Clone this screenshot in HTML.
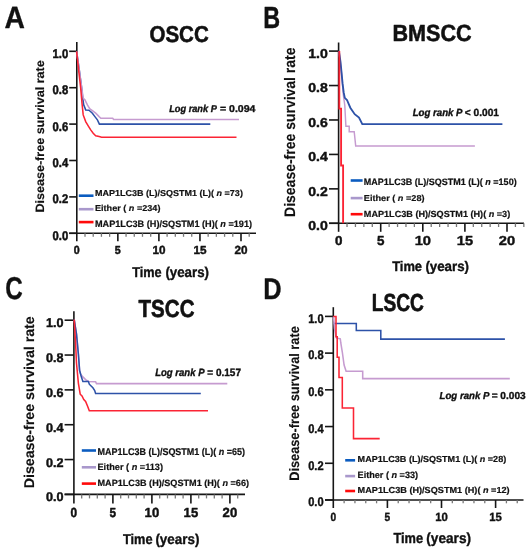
<!DOCTYPE html>
<html><head><meta charset="utf-8"><style>
html,body{margin:0;padding:0;background:#fff;}
svg{display:block;filter:blur(0.35px);}
text{font-family:"Liberation Sans",sans-serif;font-weight:bold;text-rendering:geometricPrecision;}
</style></head><body>
<svg width="529" height="550" viewBox="0 0 529 550">
<rect width="529" height="550" fill="#fff"/>
<line x1="76.80" y1="42.00" x2="76.80" y2="241.30" stroke="#161616" stroke-width="1.6"/>
<line x1="69.20" y1="233.30" x2="256.00" y2="233.30" stroke="#161616" stroke-width="1.6"/>
<line x1="69.20" y1="233.30" x2="76.80" y2="233.30" stroke="#161616" stroke-width="1.6"/>
<line x1="69.20" y1="196.90" x2="76.80" y2="196.90" stroke="#161616" stroke-width="1.6"/>
<line x1="69.20" y1="160.50" x2="76.80" y2="160.50" stroke="#161616" stroke-width="1.6"/>
<line x1="69.20" y1="124.10" x2="76.80" y2="124.10" stroke="#161616" stroke-width="1.6"/>
<line x1="69.20" y1="87.70" x2="76.80" y2="87.70" stroke="#161616" stroke-width="1.6"/>
<line x1="69.20" y1="51.30" x2="76.80" y2="51.30" stroke="#161616" stroke-width="1.6"/>
<line x1="85.01" y1="233.30" x2="85.01" y2="236.80" stroke="#777" stroke-width="1.3"/>
<line x1="93.22" y1="233.30" x2="93.22" y2="236.80" stroke="#777" stroke-width="1.3"/>
<line x1="101.43" y1="233.30" x2="101.43" y2="236.80" stroke="#777" stroke-width="1.3"/>
<line x1="109.64" y1="233.30" x2="109.64" y2="236.80" stroke="#777" stroke-width="1.3"/>
<line x1="117.85" y1="233.30" x2="117.85" y2="241.30" stroke="#161616" stroke-width="1.6"/>
<line x1="126.06" y1="233.30" x2="126.06" y2="236.80" stroke="#777" stroke-width="1.3"/>
<line x1="134.27" y1="233.30" x2="134.27" y2="236.80" stroke="#777" stroke-width="1.3"/>
<line x1="142.48" y1="233.30" x2="142.48" y2="236.80" stroke="#777" stroke-width="1.3"/>
<line x1="150.69" y1="233.30" x2="150.69" y2="236.80" stroke="#777" stroke-width="1.3"/>
<line x1="158.90" y1="233.30" x2="158.90" y2="241.30" stroke="#161616" stroke-width="1.6"/>
<line x1="167.11" y1="233.30" x2="167.11" y2="236.80" stroke="#777" stroke-width="1.3"/>
<line x1="175.32" y1="233.30" x2="175.32" y2="236.80" stroke="#777" stroke-width="1.3"/>
<line x1="183.53" y1="233.30" x2="183.53" y2="236.80" stroke="#777" stroke-width="1.3"/>
<line x1="191.74" y1="233.30" x2="191.74" y2="236.80" stroke="#777" stroke-width="1.3"/>
<line x1="199.95" y1="233.30" x2="199.95" y2="241.30" stroke="#161616" stroke-width="1.6"/>
<line x1="208.16" y1="233.30" x2="208.16" y2="236.80" stroke="#777" stroke-width="1.3"/>
<line x1="216.37" y1="233.30" x2="216.37" y2="236.80" stroke="#777" stroke-width="1.3"/>
<line x1="224.58" y1="233.30" x2="224.58" y2="236.80" stroke="#777" stroke-width="1.3"/>
<line x1="232.79" y1="233.30" x2="232.79" y2="236.80" stroke="#777" stroke-width="1.3"/>
<line x1="241.00" y1="233.30" x2="241.00" y2="241.30" stroke="#161616" stroke-width="1.6"/>
<line x1="249.21" y1="233.30" x2="249.21" y2="236.80" stroke="#777" stroke-width="1.3"/>
<text transform="translate(52.53,239.73) scale(0.8955,1)" font-size="12.573" fill="#111" stroke="#111" stroke-width="0.503" stroke-linejoin="round">0.0</text>
<text transform="translate(52.53,203.33) scale(0.8955,1)" font-size="12.573" fill="#111" stroke="#111" stroke-width="0.503" stroke-linejoin="round">0.2</text>
<text transform="translate(52.53,166.93) scale(0.8955,1)" font-size="12.573" fill="#111" stroke="#111" stroke-width="0.503" stroke-linejoin="round">0.4</text>
<text transform="translate(52.53,130.53) scale(0.8955,1)" font-size="12.573" fill="#111" stroke="#111" stroke-width="0.503" stroke-linejoin="round">0.6</text>
<text transform="translate(52.53,94.13) scale(0.8955,1)" font-size="12.573" fill="#111" stroke="#111" stroke-width="0.503" stroke-linejoin="round">0.8</text>
<text transform="translate(52.53,57.73) scale(0.8955,1)" font-size="12.573" fill="#111" stroke="#111" stroke-width="0.503" stroke-linejoin="round">1.0</text>
<text transform="translate(73.82,253.58) scale(0.9146,1)" font-size="11.701" fill="#111" stroke="#111" stroke-width="0.492" stroke-linejoin="round">0</text>
<text transform="translate(114.87,253.58) scale(0.9146,1)" font-size="11.701" fill="#111" stroke="#111" stroke-width="0.492" stroke-linejoin="round">5</text>
<text transform="translate(152.38,253.58) scale(1.0030,1)" font-size="11.701" fill="#111" stroke="#111" stroke-width="0.449" stroke-linejoin="round">10</text>
<text transform="translate(193.42,253.58) scale(1.0030,1)" font-size="11.701" fill="#111" stroke="#111" stroke-width="0.449" stroke-linejoin="round">15</text>
<text transform="translate(234.47,253.58) scale(1.0030,1)" font-size="11.701" fill="#111" stroke="#111" stroke-width="0.449" stroke-linejoin="round">20</text>
<text transform="translate(4.55,27.65) scale(0.9169,1)" font-size="30.814" fill="#111" stroke="#111" stroke-width="0.327" stroke-linejoin="round">A</text>
<text transform="translate(149.45,41.85) scale(0.8938,1)" font-size="22.965" fill="#111" stroke="#111" stroke-width="0.559" stroke-linejoin="round">OSCC</text>
<text transform="translate(43.52,212.62) rotate(-90) scale(1.0365,1)" font-size="12.137" fill="#111" stroke="#111" stroke-width="0.150" stroke-linejoin="round">Disease-free survival rate</text>
<text transform="translate(169.18,112.03) scale(0.9276,1)" font-size="9.956" fill="#111" stroke="#111" stroke-width="0.377" stroke-linejoin="round"><tspan font-style="italic">Log rank P</tspan></text>
<text transform="translate(219.98,112.03) scale(1.0614,1)" font-size="9.956" fill="#111" stroke="#111" stroke-width="0.330" stroke-linejoin="round">= 0.094</text>
<text transform="translate(132.18,277.12) scale(0.8882,1)" font-size="14.317" fill="#111" stroke="#111" stroke-width="0.394" stroke-linejoin="round">Time</text>
<text transform="translate(165.38,277.12) scale(0.9295,1)" font-size="14.317" fill="#111" stroke="#111" stroke-width="0.377" stroke-linejoin="round">(years)</text>
<line x1="78.80" y1="195.70" x2="93.50" y2="195.70" stroke="#0b5cc0" stroke-width="2.6"/>
<line x1="78.80" y1="209.20" x2="93.50" y2="209.20" stroke="#a998cc" stroke-width="2.6"/>
<line x1="78.80" y1="222.10" x2="93.50" y2="222.10" stroke="#ff0a0a" stroke-width="2.6"/>
<text transform="translate(95.00,195.80) scale(1.0519,1)" font-size="8.576" fill="#111" stroke="#111" stroke-width="0.190" stroke-linejoin="round">MAP1LC3B (L)/SQSTM1 (L)( <tspan font-style="italic">n</tspan> =73)</text>
<text transform="translate(95.00,211.40) scale(1.0613,1)" font-size="8.576" fill="#111" stroke="#111" stroke-width="0.188" stroke-linejoin="round">Either ( <tspan font-style="italic">n</tspan> =234)</text>
<text transform="translate(95.00,227.30) scale(0.9821,1)" font-size="9.302" fill="#111" stroke="#111" stroke-width="0.204" stroke-linejoin="round">MAP1LC3B (H)/SQSTM1 (H)( <tspan font-style="italic">n</tspan> =191)</text>
<polyline points="76.60,51.30 79.00,68.10 81.50,86.50 82.70,98.20 83.70,104.90 85.70,109.90 89.00,110.20 92.40,113.20 94.90,116.60 97.40,119.90 99.40,124.10 210.30,124.10" fill="none" stroke="#2d52a8" stroke-width="1.55"/>
<polyline points="76.60,51.30 79.00,68.10 81.50,86.50 83.20,98.20 84.90,99.80 87.40,104.90 89.90,109.00 92.40,110.70 95.70,113.20 99.10,116.60 100.80,118.20 112.70,118.20 113.60,119.40 239.00,119.40" fill="none" stroke="#c69bd0" stroke-width="1.55"/>
<polyline points="76.60,51.30 79.00,73.10 80.70,88.10 82.00,103.20 83.20,114.90 85.70,121.60 88.20,125.80 90.70,129.90 93.20,133.30 95.70,135.80 99.10,136.60 101.60,137.20 236.50,137.20" fill="none" stroke="#fb2434" stroke-width="1.55"/>
<line x1="338.60" y1="42.50" x2="338.60" y2="231.80" stroke="#161616" stroke-width="1.6"/>
<line x1="329.00" y1="223.30" x2="524.00" y2="223.30" stroke="#161616" stroke-width="1.6"/>
<line x1="329.00" y1="223.30" x2="338.60" y2="223.30" stroke="#161616" stroke-width="1.6"/>
<line x1="329.00" y1="188.86" x2="338.60" y2="188.86" stroke="#161616" stroke-width="1.6"/>
<line x1="329.00" y1="154.42" x2="338.60" y2="154.42" stroke="#161616" stroke-width="1.6"/>
<line x1="329.00" y1="119.98" x2="338.60" y2="119.98" stroke="#161616" stroke-width="1.6"/>
<line x1="329.00" y1="85.54" x2="338.60" y2="85.54" stroke="#161616" stroke-width="1.6"/>
<line x1="329.00" y1="51.10" x2="338.60" y2="51.10" stroke="#161616" stroke-width="1.6"/>
<line x1="347.02" y1="223.30" x2="347.02" y2="227.00" stroke="#777" stroke-width="1.3"/>
<line x1="355.44" y1="223.30" x2="355.44" y2="227.00" stroke="#777" stroke-width="1.3"/>
<line x1="363.86" y1="223.30" x2="363.86" y2="227.00" stroke="#777" stroke-width="1.3"/>
<line x1="372.28" y1="223.30" x2="372.28" y2="227.00" stroke="#777" stroke-width="1.3"/>
<line x1="380.70" y1="223.30" x2="380.70" y2="231.80" stroke="#161616" stroke-width="1.6"/>
<line x1="389.12" y1="223.30" x2="389.12" y2="227.00" stroke="#777" stroke-width="1.3"/>
<line x1="397.54" y1="223.30" x2="397.54" y2="227.00" stroke="#777" stroke-width="1.3"/>
<line x1="405.96" y1="223.30" x2="405.96" y2="227.00" stroke="#777" stroke-width="1.3"/>
<line x1="414.38" y1="223.30" x2="414.38" y2="227.00" stroke="#777" stroke-width="1.3"/>
<line x1="422.80" y1="223.30" x2="422.80" y2="231.80" stroke="#161616" stroke-width="1.6"/>
<line x1="431.22" y1="223.30" x2="431.22" y2="227.00" stroke="#777" stroke-width="1.3"/>
<line x1="439.64" y1="223.30" x2="439.64" y2="227.00" stroke="#777" stroke-width="1.3"/>
<line x1="448.06" y1="223.30" x2="448.06" y2="227.00" stroke="#777" stroke-width="1.3"/>
<line x1="456.48" y1="223.30" x2="456.48" y2="227.00" stroke="#777" stroke-width="1.3"/>
<line x1="464.90" y1="223.30" x2="464.90" y2="231.80" stroke="#161616" stroke-width="1.6"/>
<line x1="473.32" y1="223.30" x2="473.32" y2="227.00" stroke="#777" stroke-width="1.3"/>
<line x1="481.74" y1="223.30" x2="481.74" y2="227.00" stroke="#777" stroke-width="1.3"/>
<line x1="490.16" y1="223.30" x2="490.16" y2="227.00" stroke="#777" stroke-width="1.3"/>
<line x1="498.58" y1="223.30" x2="498.58" y2="227.00" stroke="#777" stroke-width="1.3"/>
<line x1="507.00" y1="223.30" x2="507.00" y2="231.80" stroke="#161616" stroke-width="1.6"/>
<line x1="515.42" y1="223.30" x2="515.42" y2="227.00" stroke="#777" stroke-width="1.3"/>
<line x1="523.84" y1="223.30" x2="523.84" y2="227.00" stroke="#777" stroke-width="1.3"/>
<text transform="translate(308.23,230.18) scale(1.0812,1)" font-size="13.009" fill="#111" stroke="#111" stroke-width="0.416" stroke-linejoin="round">0.0</text>
<text transform="translate(308.23,195.74) scale(1.0812,1)" font-size="13.009" fill="#111" stroke="#111" stroke-width="0.416" stroke-linejoin="round">0.2</text>
<text transform="translate(308.23,161.30) scale(1.0812,1)" font-size="13.009" fill="#111" stroke="#111" stroke-width="0.416" stroke-linejoin="round">0.4</text>
<text transform="translate(308.23,126.86) scale(1.0812,1)" font-size="13.009" fill="#111" stroke="#111" stroke-width="0.416" stroke-linejoin="round">0.6</text>
<text transform="translate(308.23,92.42) scale(1.0812,1)" font-size="13.009" fill="#111" stroke="#111" stroke-width="0.416" stroke-linejoin="round">0.8</text>
<text transform="translate(308.23,57.97) scale(1.0812,1)" font-size="13.009" fill="#111" stroke="#111" stroke-width="0.416" stroke-linejoin="round">1.0</text>
<text transform="translate(334.88,245.48) scale(1.0300,1)" font-size="13.009" fill="#111" stroke="#111" stroke-width="0.437" stroke-linejoin="round">0</text>
<text transform="translate(376.98,245.48) scale(1.0300,1)" font-size="13.009" fill="#111" stroke="#111" stroke-width="0.437" stroke-linejoin="round">5</text>
<text transform="translate(414.63,245.48) scale(1.1303,1)" font-size="13.009" fill="#111" stroke="#111" stroke-width="0.398" stroke-linejoin="round">10</text>
<text transform="translate(456.73,245.48) scale(1.1303,1)" font-size="13.009" fill="#111" stroke="#111" stroke-width="0.398" stroke-linejoin="round">15</text>
<text transform="translate(498.83,245.48) scale(1.1303,1)" font-size="13.009" fill="#111" stroke="#111" stroke-width="0.398" stroke-linejoin="round">20</text>
<text transform="translate(263.15,27.55) scale(0.7669,1)" font-size="30.523" fill="#111" stroke="#111" stroke-width="0.391" stroke-linejoin="round">B</text>
<text transform="translate(392.45,41.35) scale(0.9229,1)" font-size="23.401" fill="#111" stroke="#111" stroke-width="0.542" stroke-linejoin="round">BMSCC</text>
<text transform="translate(295.32,216.93) rotate(-90) scale(0.9216,1)" font-size="15.189" fill="#111" stroke="#111" stroke-width="0.150" stroke-linejoin="round">Disease-free survival rate</text>
<text transform="translate(412.68,116.12) scale(0.9297,1)" font-size="10.392" fill="#111" stroke="#111" stroke-width="0.376" stroke-linejoin="round"><tspan font-style="italic">Log rank P</tspan></text>
<text transform="translate(464.78,116.12) scale(0.9797,1)" font-size="10.392" fill="#111" stroke="#111" stroke-width="0.357" stroke-linejoin="round">&lt; 0.001</text>
<text transform="translate(392.18,270.72) scale(0.9285,1)" font-size="13.881" fill="#111" stroke="#111" stroke-width="0.377" stroke-linejoin="round">Time</text>
<text transform="translate(425.38,270.72) scale(0.9587,1)" font-size="13.881" fill="#111" stroke="#111" stroke-width="0.365" stroke-linejoin="round">(years)</text>
<line x1="350.70" y1="180.50" x2="362.60" y2="180.50" stroke="#0b5cc0" stroke-width="2.6"/>
<line x1="350.70" y1="198.10" x2="362.60" y2="198.10" stroke="#a998cc" stroke-width="2.6"/>
<line x1="350.70" y1="214.20" x2="362.60" y2="214.20" stroke="#ff0a0a" stroke-width="2.6"/>
<text transform="translate(363.80,185.30) scale(0.9684,1)" font-size="9.302" fill="#111" stroke="#111" stroke-width="0.207" stroke-linejoin="round">MAP1LC3B (L)/SQSTM1 (L)( <tspan font-style="italic">n</tspan> =150)</text>
<text transform="translate(363.80,201.20) scale(1.0677,1)" font-size="8.576" fill="#111" stroke="#111" stroke-width="0.187" stroke-linejoin="round">Either ( <tspan font-style="italic">n</tspan> =28)</text>
<text transform="translate(363.80,216.70) scale(1.0273,1)" font-size="8.866" fill="#111" stroke="#111" stroke-width="0.195" stroke-linejoin="round">MAP1LC3B (H)/SQSTM1 (H)( <tspan font-style="italic">n</tspan> =3)</text>
<polyline points="338.90,50.90 341.50,72.80 343.30,94.60 344.80,105.50 345.90,126.20 349.20,126.20 349.20,131.70 354.20,131.70 355.70,145.90 474.90,145.90" fill="none" stroke="#c69bd0" stroke-width="1.45"/>
<polyline points="338.90,50.90 340.50,61.80 342.60,83.70 343.70,92.40 344.80,97.90 347.00,100.00 350.30,107.70 354.70,114.20 359.00,117.50 362.30,124.10 502.40,124.10" fill="none" stroke="#2d52a8" stroke-width="1.85"/>
<polyline points="339.30,51.00 339.30,108.60 341.10,108.60 341.10,165.50 343.10,165.50 343.10,223.30" fill="none" stroke="#fb2434" stroke-width="1.85"/>
<line x1="73.90" y1="311.20" x2="73.90" y2="503.40" stroke="#161616" stroke-width="1.6"/>
<line x1="64.60" y1="494.40" x2="245.00" y2="494.40" stroke="#161616" stroke-width="1.6"/>
<line x1="64.60" y1="494.40" x2="73.90" y2="494.40" stroke="#161616" stroke-width="1.6"/>
<line x1="64.60" y1="459.56" x2="73.90" y2="459.56" stroke="#161616" stroke-width="1.6"/>
<line x1="64.60" y1="424.72" x2="73.90" y2="424.72" stroke="#161616" stroke-width="1.6"/>
<line x1="64.60" y1="389.88" x2="73.90" y2="389.88" stroke="#161616" stroke-width="1.6"/>
<line x1="64.60" y1="355.04" x2="73.90" y2="355.04" stroke="#161616" stroke-width="1.6"/>
<line x1="64.60" y1="320.20" x2="73.90" y2="320.20" stroke="#161616" stroke-width="1.6"/>
<line x1="81.70" y1="494.40" x2="81.70" y2="498.40" stroke="#777" stroke-width="1.3"/>
<line x1="89.50" y1="494.40" x2="89.50" y2="498.40" stroke="#777" stroke-width="1.3"/>
<line x1="97.30" y1="494.40" x2="97.30" y2="498.40" stroke="#777" stroke-width="1.3"/>
<line x1="105.10" y1="494.40" x2="105.10" y2="498.40" stroke="#777" stroke-width="1.3"/>
<line x1="112.90" y1="494.40" x2="112.90" y2="503.40" stroke="#161616" stroke-width="1.6"/>
<line x1="120.70" y1="494.40" x2="120.70" y2="498.40" stroke="#777" stroke-width="1.3"/>
<line x1="128.50" y1="494.40" x2="128.50" y2="498.40" stroke="#777" stroke-width="1.3"/>
<line x1="136.30" y1="494.40" x2="136.30" y2="498.40" stroke="#777" stroke-width="1.3"/>
<line x1="144.10" y1="494.40" x2="144.10" y2="498.40" stroke="#777" stroke-width="1.3"/>
<line x1="151.90" y1="494.40" x2="151.90" y2="503.40" stroke="#161616" stroke-width="1.6"/>
<line x1="159.70" y1="494.40" x2="159.70" y2="498.40" stroke="#777" stroke-width="1.3"/>
<line x1="167.50" y1="494.40" x2="167.50" y2="498.40" stroke="#777" stroke-width="1.3"/>
<line x1="175.30" y1="494.40" x2="175.30" y2="498.40" stroke="#777" stroke-width="1.3"/>
<line x1="183.10" y1="494.40" x2="183.10" y2="498.40" stroke="#777" stroke-width="1.3"/>
<line x1="190.90" y1="494.40" x2="190.90" y2="503.40" stroke="#161616" stroke-width="1.6"/>
<line x1="198.70" y1="494.40" x2="198.70" y2="498.40" stroke="#777" stroke-width="1.3"/>
<line x1="206.50" y1="494.40" x2="206.50" y2="498.40" stroke="#777" stroke-width="1.3"/>
<line x1="214.30" y1="494.40" x2="214.30" y2="498.40" stroke="#777" stroke-width="1.3"/>
<line x1="222.10" y1="494.40" x2="222.10" y2="498.40" stroke="#777" stroke-width="1.3"/>
<line x1="229.90" y1="494.40" x2="229.90" y2="503.40" stroke="#161616" stroke-width="1.6"/>
<line x1="237.70" y1="494.40" x2="237.70" y2="498.40" stroke="#777" stroke-width="1.3"/>
<text transform="translate(45.93,501.38) scale(0.9928,1)" font-size="12.718" fill="#111" stroke="#111" stroke-width="0.453" stroke-linejoin="round">0.0</text>
<text transform="translate(45.93,466.54) scale(0.9928,1)" font-size="12.718" fill="#111" stroke="#111" stroke-width="0.453" stroke-linejoin="round">0.2</text>
<text transform="translate(45.93,431.69) scale(0.9928,1)" font-size="12.718" fill="#111" stroke="#111" stroke-width="0.453" stroke-linejoin="round">0.4</text>
<text transform="translate(45.93,396.86) scale(0.9928,1)" font-size="12.718" fill="#111" stroke="#111" stroke-width="0.453" stroke-linejoin="round">0.6</text>
<text transform="translate(45.93,362.01) scale(0.9928,1)" font-size="12.718" fill="#111" stroke="#111" stroke-width="0.453" stroke-linejoin="round">0.8</text>
<text transform="translate(45.93,327.18) scale(0.9928,1)" font-size="12.718" fill="#111" stroke="#111" stroke-width="0.453" stroke-linejoin="round">1.0</text>
<text transform="translate(70.62,517.27) scale(0.8956,1)" font-size="13.154" fill="#111" stroke="#111" stroke-width="0.502" stroke-linejoin="round">0</text>
<text transform="translate(109.62,517.27) scale(0.8956,1)" font-size="13.154" fill="#111" stroke="#111" stroke-width="0.502" stroke-linejoin="round">5</text>
<text transform="translate(144.62,517.27) scale(0.9947,1)" font-size="13.154" fill="#111" stroke="#111" stroke-width="0.452" stroke-linejoin="round">10</text>
<text transform="translate(183.62,517.27) scale(0.9947,1)" font-size="13.154" fill="#111" stroke="#111" stroke-width="0.452" stroke-linejoin="round">15</text>
<text transform="translate(222.62,517.27) scale(0.9947,1)" font-size="13.154" fill="#111" stroke="#111" stroke-width="0.452" stroke-linejoin="round">20</text>
<text transform="translate(5.15,298.95) scale(0.7649,1)" font-size="31.686" fill="#111" stroke="#111" stroke-width="0.392" stroke-linejoin="round">C</text>
<text transform="translate(138.55,316.95) scale(0.8375,1)" font-size="24.564" fill="#111" stroke="#111" stroke-width="0.597" stroke-linejoin="round">TSCC</text>
<text transform="translate(34.42,488.32) rotate(-90) scale(1.0029,1)" font-size="14.172" fill="#111" stroke="#111" stroke-width="0.150" stroke-linejoin="round">Disease-free survival rate</text>
<text transform="translate(155.18,375.72) scale(0.9077,1)" font-size="10.538" fill="#111" stroke="#111" stroke-width="0.386" stroke-linejoin="round"><tspan font-style="italic">Log rank P</tspan></text>
<text transform="translate(207.28,375.72) scale(0.9521,1)" font-size="10.538" fill="#111" stroke="#111" stroke-width="0.368" stroke-linejoin="round">= 0.157</text>
<text transform="translate(122.97,544.12) scale(0.8912,1)" font-size="14.317" fill="#111" stroke="#111" stroke-width="0.393" stroke-linejoin="round">Time</text>
<text transform="translate(155.38,544.12) scale(0.9380,1)" font-size="14.317" fill="#111" stroke="#111" stroke-width="0.373" stroke-linejoin="round">(years)</text>
<line x1="81.80" y1="450.50" x2="96.00" y2="450.50" stroke="#0b5cc0" stroke-width="2.6"/>
<line x1="81.80" y1="467.30" x2="96.00" y2="467.30" stroke="#a998cc" stroke-width="2.6"/>
<line x1="81.80" y1="483.60" x2="96.00" y2="483.60" stroke="#ff0a0a" stroke-width="2.6"/>
<text transform="translate(97.50,454.70) scale(0.9244,1)" font-size="9.738" fill="#111" stroke="#111" stroke-width="0.216" stroke-linejoin="round">MAP1LC3B (L)/SQSTM1 (L)( <tspan font-style="italic">n</tspan> =65)</text>
<text transform="translate(97.50,470.30) scale(1.0031,1)" font-size="9.157" fill="#111" stroke="#111" stroke-width="0.199" stroke-linejoin="round">Either ( <tspan font-style="italic">n</tspan> =113)</text>
<text transform="translate(97.50,486.10) scale(1.0116,1)" font-size="9.012" fill="#111" stroke="#111" stroke-width="0.198" stroke-linejoin="round">MAP1LC3B (H)/SQSTM1 (H)( <tspan font-style="italic">n</tspan> =66)</text>
<polyline points="74.20,319.60 76.50,334.20 78.40,354.20 79.60,370.50 80.70,374.20 82.90,376.90 85.60,379.60 88.40,381.50 95.60,381.80 96.50,383.60 227.30,383.60" fill="none" stroke="#c69bd0" stroke-width="1.55"/>
<polyline points="74.20,319.60 76.50,334.20 78.40,354.20 79.60,370.50 81.10,376.00 82.90,381.50 88.40,381.50 89.30,384.20 91.10,386.00 92.90,387.80 94.70,390.50 95.60,393.40 200.80,393.40" fill="none" stroke="#2d52a8" stroke-width="1.55"/>
<polyline points="74.20,319.60 75.60,343.30 76.50,363.30 78.40,383.30 80.20,394.20 82.00,396.00 83.80,399.60 85.60,401.50 87.50,406.00 89.30,410.80 208.00,410.80" fill="none" stroke="#fb2434" stroke-width="1.55"/>
<line x1="333.30" y1="307.20" x2="333.30" y2="508.00" stroke="#161616" stroke-width="1.6"/>
<line x1="325.00" y1="500.00" x2="523.50" y2="500.00" stroke="#161616" stroke-width="1.6"/>
<line x1="325.00" y1="500.00" x2="333.30" y2="500.00" stroke="#161616" stroke-width="1.6"/>
<line x1="325.00" y1="463.28" x2="333.30" y2="463.28" stroke="#161616" stroke-width="1.6"/>
<line x1="325.00" y1="426.56" x2="333.30" y2="426.56" stroke="#161616" stroke-width="1.6"/>
<line x1="325.00" y1="389.84" x2="333.30" y2="389.84" stroke="#161616" stroke-width="1.6"/>
<line x1="325.00" y1="353.12" x2="333.30" y2="353.12" stroke="#161616" stroke-width="1.6"/>
<line x1="325.00" y1="316.40" x2="333.30" y2="316.40" stroke="#161616" stroke-width="1.6"/>
<line x1="344.12" y1="500.00" x2="344.12" y2="503.30" stroke="#777" stroke-width="1.3"/>
<line x1="354.94" y1="500.00" x2="354.94" y2="503.30" stroke="#777" stroke-width="1.3"/>
<line x1="365.76" y1="500.00" x2="365.76" y2="503.30" stroke="#777" stroke-width="1.3"/>
<line x1="376.58" y1="500.00" x2="376.58" y2="503.30" stroke="#777" stroke-width="1.3"/>
<line x1="387.40" y1="500.00" x2="387.40" y2="508.00" stroke="#161616" stroke-width="1.6"/>
<line x1="398.22" y1="500.00" x2="398.22" y2="503.30" stroke="#777" stroke-width="1.3"/>
<line x1="409.04" y1="500.00" x2="409.04" y2="503.30" stroke="#777" stroke-width="1.3"/>
<line x1="419.86" y1="500.00" x2="419.86" y2="503.30" stroke="#777" stroke-width="1.3"/>
<line x1="430.68" y1="500.00" x2="430.68" y2="503.30" stroke="#777" stroke-width="1.3"/>
<line x1="441.50" y1="500.00" x2="441.50" y2="508.00" stroke="#161616" stroke-width="1.6"/>
<line x1="452.32" y1="500.00" x2="452.32" y2="503.30" stroke="#777" stroke-width="1.3"/>
<line x1="463.14" y1="500.00" x2="463.14" y2="503.30" stroke="#777" stroke-width="1.3"/>
<line x1="473.96" y1="500.00" x2="473.96" y2="503.30" stroke="#777" stroke-width="1.3"/>
<line x1="484.78" y1="500.00" x2="484.78" y2="503.30" stroke="#777" stroke-width="1.3"/>
<line x1="495.60" y1="500.00" x2="495.60" y2="508.00" stroke="#161616" stroke-width="1.6"/>
<line x1="506.42" y1="500.00" x2="506.42" y2="503.30" stroke="#777" stroke-width="1.3"/>
<line x1="517.24" y1="500.00" x2="517.24" y2="503.30" stroke="#777" stroke-width="1.3"/>
<text transform="translate(308.18,506.32) scale(0.8841,1)" font-size="12.573" fill="#111" stroke="#111" stroke-width="0.396" stroke-linejoin="round">0.0</text>
<text transform="translate(308.18,469.60) scale(0.8841,1)" font-size="12.573" fill="#111" stroke="#111" stroke-width="0.396" stroke-linejoin="round">0.2</text>
<text transform="translate(308.18,432.88) scale(0.8841,1)" font-size="12.573" fill="#111" stroke="#111" stroke-width="0.396" stroke-linejoin="round">0.4</text>
<text transform="translate(308.18,396.16) scale(0.8841,1)" font-size="12.573" fill="#111" stroke="#111" stroke-width="0.396" stroke-linejoin="round">0.6</text>
<text transform="translate(308.18,359.44) scale(0.8841,1)" font-size="12.573" fill="#111" stroke="#111" stroke-width="0.396" stroke-linejoin="round">0.8</text>
<text transform="translate(308.18,322.72) scale(0.8841,1)" font-size="12.573" fill="#111" stroke="#111" stroke-width="0.396" stroke-linejoin="round">1.0</text>
<text transform="translate(330.48,520.93) scale(0.8578,1)" font-size="11.846" fill="#111" stroke="#111" stroke-width="0.408" stroke-linejoin="round">0</text>
<text transform="translate(384.58,520.93) scale(0.8578,1)" font-size="11.846" fill="#111" stroke="#111" stroke-width="0.408" stroke-linejoin="round">5</text>
<text transform="translate(435.18,520.93) scale(0.9603,1)" font-size="11.846" fill="#111" stroke="#111" stroke-width="0.364" stroke-linejoin="round">10</text>
<text transform="translate(489.28,520.93) scale(0.9603,1)" font-size="11.846" fill="#111" stroke="#111" stroke-width="0.364" stroke-linejoin="round">15</text>
<text transform="translate(263.35,298.65) scale(0.8553,1)" font-size="29.797" fill="#111" stroke="#111" stroke-width="0.351" stroke-linejoin="round">D</text>
<text transform="translate(371.75,310.95) scale(0.7807,1)" font-size="24.564" fill="#111" stroke="#111" stroke-width="0.640" stroke-linejoin="round">LSCC</text>
<text transform="translate(298.53,480.73) rotate(-90) scale(0.9291,1)" font-size="13.735" fill="#111" stroke="#111" stroke-width="0.150" stroke-linejoin="round">Disease-free survival rate</text>
<text transform="translate(439.57,399.43) scale(0.9564,1)" font-size="10.102" fill="#111" stroke="#111" stroke-width="0.366" stroke-linejoin="round"><tspan font-style="italic">Log rank P</tspan></text>
<text transform="translate(491.68,399.43) scale(0.9991,1)" font-size="10.102" fill="#111" stroke="#111" stroke-width="0.350" stroke-linejoin="round">= 0.003</text>
<text transform="translate(393.48,542.93) scale(0.8852,1)" font-size="14.462" fill="#111" stroke="#111" stroke-width="0.395" stroke-linejoin="round">Time</text>
<text transform="translate(426.28,542.93) scale(0.9434,1)" font-size="14.462" fill="#111" stroke="#111" stroke-width="0.371" stroke-linejoin="round">(years)</text>
<line x1="345.20" y1="460.30" x2="355.10" y2="460.30" stroke="#0b5cc0" stroke-width="2.6"/>
<line x1="345.20" y1="476.10" x2="355.10" y2="476.10" stroke="#a998cc" stroke-width="2.6"/>
<line x1="345.20" y1="491.00" x2="355.10" y2="491.00" stroke="#ff0a0a" stroke-width="2.6"/>
<text transform="translate(357.60,462.10) scale(1.0379,1)" font-size="8.721" fill="#111" stroke="#111" stroke-width="0.193" stroke-linejoin="round">MAP1LC3B (L)/SQSTM1 (L)( <tspan font-style="italic">n</tspan> =28)</text>
<text transform="translate(357.60,478.00) scale(0.9966,1)" font-size="9.157" fill="#111" stroke="#111" stroke-width="0.201" stroke-linejoin="round">Either ( <tspan font-style="italic">n</tspan> =33)</text>
<text transform="translate(357.60,493.30) scale(1.0481,1)" font-size="8.721" fill="#111" stroke="#111" stroke-width="0.191" stroke-linejoin="round">MAP1LC3B (H)/SQSTM1 (H)( <tspan font-style="italic">n</tspan> =12)</text>
<polyline points="333.30,323.50 356.30,323.50 356.30,330.50 380.80,330.50 380.80,339.10 504.90,339.10" fill="none" stroke="#2d52a8" stroke-width="1.55"/>
<polyline points="333.50,316.40 334.50,329.00 336.50,338.00 340.30,338.80 340.80,343.00 342.30,352.00 344.10,365.00 346.10,371.20 362.70,371.20 362.70,378.60 509.80,378.60" fill="none" stroke="#c69bd0" stroke-width="1.55"/>
<polyline points="333.30,316.40 336.00,316.40 336.00,336.80 337.20,336.80 337.20,357.20 339.00,357.20 339.00,377.50 342.30,377.50 342.30,408.00 353.50,408.00 353.50,438.60 379.70,438.60" fill="none" stroke="#fb2434" stroke-width="1.55"/>
</svg></body></html>
